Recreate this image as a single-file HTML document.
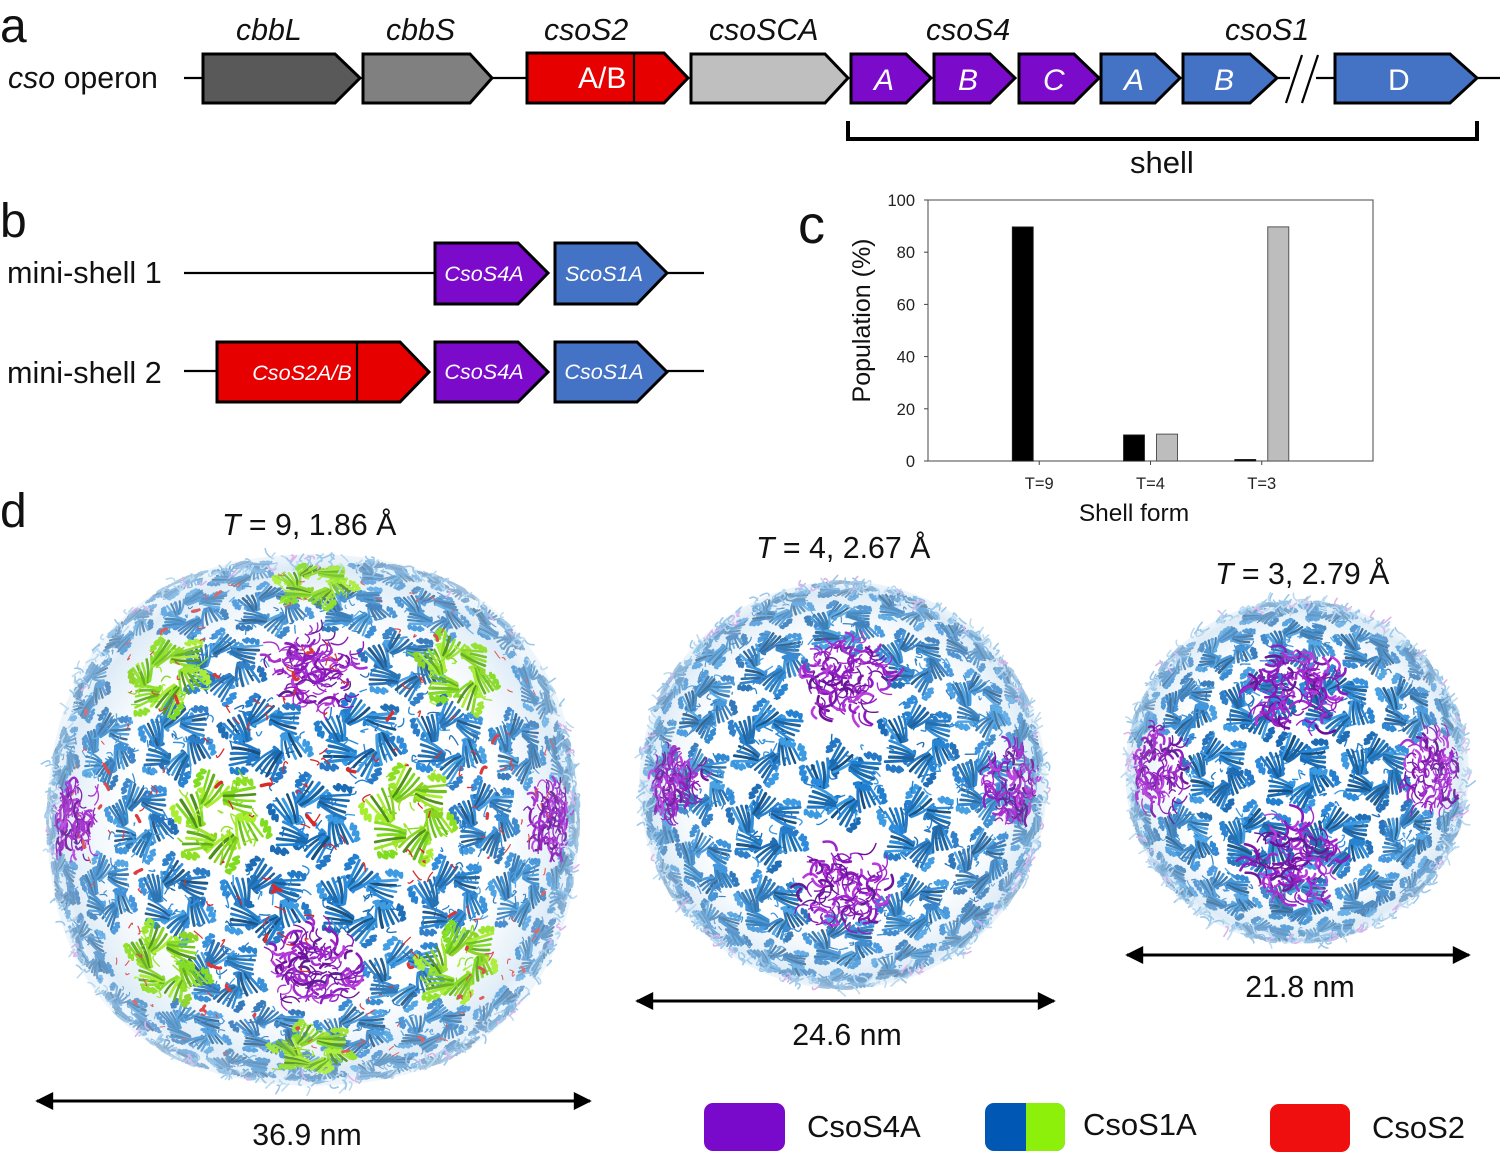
<!DOCTYPE html>
<html lang="en">
<head>
<meta charset="utf-8">
<title>Carboxysome mini-shell figure</title>
<style>
html,body{margin:0;padding:0;background:#fff;}
svg{display:block;}
text{font-family:"Liberation Sans",sans-serif;fill:#111;}
.i{font-style:italic;}
.g{stroke:#000;stroke-width:3;stroke-linejoin:miter;}
.l{stroke:#000;stroke-width:2.2;fill:none;}
.w{fill:#fff;font-size:30px;}
.ws{fill:#fff;font-size:21.6px;font-style:italic;text-anchor:middle;}
.lab{font-size:30.3px;}
.pan{font-size:48px;}
.tk{font-size:16.5px;fill:#222;}
</style>
</head>
<body>
<svg id="fig" xmlns="http://www.w3.org/2000/svg" width="1500" height="1155" viewBox="0 0 1500 1155">
<defs>
<marker id="ah" viewBox="0 0 10 10" refX="9" refY="5" markerWidth="9" markerHeight="6" markerUnits="strokeWidth" orient="auto-start-reverse"><path d="M0 0L10 5L0 10z" fill="#000"/></marker>
<radialGradient id="halo">
<stop offset="0.7" stop-color="#cfe3f3" stop-opacity="0"/>
<stop offset="0.95" stop-color="#bcd8ee" stop-opacity="0.5"/>
<stop offset="1" stop-color="#cfe3f3" stop-opacity="0.35"/>
</radialGradient>
</defs>
<rect width="1500" height="1155" fill="#fff"/>

<g>
<text class="pan" x="0" y="42">a</text>
<text class="lab" x="8" y="88"><tspan class="i">cso</tspan> operon</text>
<path class="l" d="M184 78H203M492 78H527M1277 78H1290M1316 78H1335M1477 78H1500M1286 103L1302 55M1302 103L1318 55"/>
<polygon class="g" fill="#595959" points="203,54 335,54 360,78 335,103 203,103"/>
<polygon class="g" fill="#808080" points="363,54 470,54 492,78 470,103 363,103"/>
<polygon class="g" fill="#e60000" points="527,53 664,53 688,78 664,103 527,103"/>
<path class="l" d="M634 53V103"/>
<polygon class="g" fill="#bfbfbf" points="691,54 825,54 848,78 825,103 691,103"/>
<polygon class="g" fill="#7b0acb" points="851,54 906,54 931,78 906,103 851,103"/>
<polygon class="g" fill="#7b0acb" points="934,54 990,54 1015,78 990,103 934,103"/>
<polygon class="g" fill="#7b0acb" points="1019,54 1074,54 1099,78 1074,103 1019,103"/>
<polygon class="g" fill="#4472c4" points="1101,54 1155,54 1180,78 1155,103 1101,103"/>
<polygon class="g" fill="#4472c4" points="1183,54 1250,54 1277,78 1250,103 1183,103"/>
<polygon class="g" fill="#4472c4" points="1335,54 1450,54 1477,78 1450,103 1335,103"/>
<text class="lab i" x="236" y="40">cbbL</text>
<text class="lab i" x="386" y="40">cbbS</text>
<text class="lab i" x="544" y="40">csoS2</text>
<text class="lab i" x="709" y="40">csoSCA</text>
<text class="lab i" x="926" y="40">csoS4</text>
<text class="lab i" x="1225" y="40">csoS1</text>
<text class="w" x="578" y="88">A/B</text>
<text class="w i" x="874" y="90">A</text>
<text class="w i" x="958" y="90">B</text>
<text class="w i" x="1043" y="90">C</text>
<text class="w i" x="1124" y="90">A</text>
<text class="w i" x="1214" y="90">B</text>
<text class="w" x="1388" y="90">D</text>
<path d="M848 121V139H1477V121" fill="none" stroke="#000" stroke-width="4"/>
<text x="1130" y="173" font-size="31">shell</text>
</g>

<g>
<text class="pan" x="0" y="237">b</text>
<text x="7" y="283" font-size="30.6">mini-shell 1</text>
<text x="7" y="383" font-size="30.6">mini-shell 2</text>
<path class="l" d="M184 273H435M667 273H704M184 371H217M667 371H704"/>
<polygon class="g" fill="#7b0acb" points="435,243 518,243 548,273 518,304 435,304"/>
<polygon class="g" fill="#4472c4" points="555,243 637,243 667,273 637,304 555,304"/>
<polygon class="g" fill="#e60000" points="217,342 400,342 429,372 400,402 217,402"/>
<path class="l" d="M357 342V402"/>
<polygon class="g" fill="#7b0acb" points="435,342 518,342 548,372 518,402 435,402"/>
<polygon class="g" fill="#4472c4" points="555,342 637,342 667,372 637,402 555,402"/>
<text class="ws" x="484" y="281">CsoS4A</text>
<text class="ws" x="604" y="281">ScoS1A</text>
<text class="ws" x="302" y="380">CsoS2A/B</text>
<text class="ws" x="484" y="379">CsoS4A</text>
<text class="ws" x="604" y="379">CsoS1A</text>
</g>

<g id="chart">
<text x="798" y="243" font-size="54">c</text>
<text x="1134" y="521" font-size="24.5" text-anchor="middle">Shell form</text>
<text transform="translate(870 320.5) rotate(-90)" font-size="25" text-anchor="middle">Population (%)</text>
</g>

<g>
<text class="pan" x="0" y="527">d</text>
<text class="lab" x="222" y="535"><tspan class="i">T</tspan> = 9, 1.86 Å</text>
<text class="lab" x="756" y="558"><tspan class="i">T</tspan> = 4, 2.67 Å</text>
<text class="lab" x="1215" y="584"><tspan class="i">T</tspan> = 3, 2.79 Å</text>
<g id="shells"></g>
<path d="M37 1101H590" stroke="#000" stroke-width="3" marker-start="url(#ah)" marker-end="url(#ah)"/>
<path d="M637 1001H1054" stroke="#000" stroke-width="3" marker-start="url(#ah)" marker-end="url(#ah)"/>
<path d="M1127 955H1469" stroke="#000" stroke-width="3" marker-start="url(#ah)" marker-end="url(#ah)"/>
<text class="lab" x="307" y="1145" text-anchor="middle">36.9 nm</text>
<text class="lab" x="847" y="1045" text-anchor="middle">24.6 nm</text>
<text class="lab" x="1300" y="997" text-anchor="middle">21.8 nm</text>
</g>

<g>
<rect x="704" y="1103" width="81" height="48" rx="9" fill="#7a0acb"/>
<text x="807" y="1137" font-size="31">CsoS4A</text>
<rect x="985" y="1103" width="80" height="48" rx="9" fill="#0058b4"/>
<path d="M1026 1103H1056a9 9 0 0 1 9 9V1142a9 9 0 0 1 -9 9H1026z" fill="#8cf00a"/>
<text x="1083" y="1135" font-size="31">CsoS1A</text>
<rect x="1270" y="1104" width="80" height="48" rx="9" fill="#f00f0f"/>
<text x="1372" y="1138" font-size="31">CsoS2</text>
</g>
</svg>

<script>
/* ---------- chart data ---------- */
const categories = ["T=9", "T=4", "T=3"];
const seriesBlack = [89.7, 10, 0.6];
const seriesGray = [0, 10.3, 89.7];
const yTicks = [0, 20, 40, 60, 80, 100];

const NS = "http://www.w3.org/2000/svg";
const chart = document.getElementById("chart");
const plotLeft = 928, plotRight = 1373, plotTop = 200, plotBottom = 461;
const yMax = 100;
function yScale(v) { return plotBottom - (v / yMax) * (plotBottom - plotTop); }
function xScale(i) { return plotLeft + (plotRight - plotLeft) / (categories.length + 1) * (i + 1); }
function mk(tag, attrs, parent) {
  const e = document.createElementNS(NS, tag);
  for (const k in attrs) e.setAttribute(k, attrs[k]);
  (parent || chart).appendChild(e);
  return e;
}
const frame = mk("rect", {x: plotLeft, y: plotTop, width: plotRight - plotLeft, height: plotBottom - plotTop, fill: "none", stroke: "#666", "stroke-width": 1.2});


yTicks.forEach(function (t) {
  const m = mk("line", {x1: plotLeft - 4, x2: plotLeft, y1: yScale(t), y2: yScale(t), stroke: "#444", "stroke-width": 1});
  
  
  const l = mk("text", {x: plotLeft - 13, y: yScale(t) + 6, "text-anchor": "end", class: "tk"});
  l.textContent = t;
  
  
});
categories.forEach(function (c, i) {
  const x = xScale(i);
  const m = mk("line", {x1: x, x2: x, y1: plotBottom, y2: plotBottom + 4, stroke: "#444", "stroke-width": 1});
  
  
  const l = mk("text", {x: x, y: plotBottom + 28, "text-anchor": "middle", class: "tk"});
  l.textContent = c;
  
  
  const b1 = mk("rect", {x: x - 27, y: yScale(seriesBlack[i]), width: 21, height: plotBottom - yScale(seriesBlack[i]), fill: "#000", stroke: "#222", "stroke-width": 0.8});
  
  
  const b2 = mk("rect", {x: x + 6, y: yScale(seriesGray[i]), width: 21, height: plotBottom - yScale(seriesGray[i]), fill: "#bdbdbd", stroke: "#555", "stroke-width": 1});
  
  
});

/* ---------- decorative protein-ribbon texture (not chart data) ---------- */
let seed = 12345;
function rnd() { seed = (seed * 1664525 + 1013904223) % 4294967296; return seed / 4294967296; }
const BLUE = ["#1f7fd0", "#2a8adb", "#1a6ab4", "#3a9ae2", "#2378c6"];
const BLUE_DARK = ["#164f80", "#1a5f98", "#1b6aa8"];
const GREEN = ["#7fdc1e", "#9be52a", "#8ce020", "#8ad420", "#a8ee30"];
const GREEN_DARK = ["#5fae1a", "#4f8f1a", "#6cc01c"];
const PURPLE = ["#8a16b8", "#a52bd0", "#8a18c0", "#b83adc", "#a024cc"];
const PURPLE_DARK = ["#6a1098", "#5a1a90", "#7a14a6"];
const shellSpecs = [
  {name: "t9-shell", cx: 313, cy: 820, R: 266, sp: 95, rot: 0, bulge: 0.045, links: 1,
   green: [[219,820],[410,815],[165,675],[460,670],[315,582],[165,965],[460,965],[313,1052]],
   purple: [[313,670],[315,968],[72,820],[552,820]]},
  {name: "t4-shell", cx: 843, cy: 785, R: 204, sp: 92, rot: 30, bulge: 0, links: 0,
   green: [], purple: [[845,675],[843,893],[672,785],[1015,785]]},
  {name: "t3-shell", cx: 1297, cy: 772, R: 172, sp: 84, rot: 0, bulge: 0, links: 0,
   green: [], purple: [[1295,685],[1295,865],[1155,770],[1437,770]]}
];
function mix(hex, t) {
  const n = parseInt(hex.slice(1), 16);
  const f = function (c) { return Math.round(c + (240 - c) * t); };
  return "rgb(" + f(n >> 16) + "," + f((n >> 8) & 255) + "," + f(n & 255) + ")";
}
function drawShell(s) {
  const g = mk("g", {fill: "none", "stroke-linecap": "round"}, document.getElementById("shells"));
  
  
  function bulge(th) { const q = Math.sin(2 * th); return 1 + s.bulge * q * q; }
  let outline = "";
  for (let a = 0; a < 72; a++) {
    const th = a * Math.PI / 36, r = s.R * bulge(th);
    outline += (a ? "L" : "M") + (s.cx + Math.cos(th) * r).toFixed(1) + " " + (s.cy + Math.sin(th) * r).toFixed(1);
  }
  const under = mk("path", {d: outline + "Z", fill: "url(#halo)"}, g);
  
  
  function toPlane(px, py) {
    const dx = px - s.cx, dy = py - s.cy, d0 = Math.hypot(dx, dy);
    if (d0 < 1) return [0, 0];
    const p = d0 / bulge(Math.atan2(dy, dx));
    const r = s.R * Math.asin(Math.min(p / s.R, 0.995));
    return [dx / d0 * r, dy / d0 * r];
  }
  function proj(u, v) {
    const r = Math.hypot(u, v);
    if (r < 1) return [s.cx + u, s.cy + v, 0];
    const q = Math.min(r / s.R, Math.PI / 2), p = s.R * Math.sin(q) * bulge(Math.atan2(v, u));
    return [s.cx + u / r * p, s.cy + v / r * p, q];
  }
  const d = {};
  let fade = 0.72;
  function add(col, w, pts) {
    const a = proj(pts[0], pts[1]);
    const rim = Math.min(1, Math.pow(a[2] / (Math.PI / 2), 2.6));
    const colour = mix(col, rim * fade);
    const ww = (w * (1 - 0.45 * rim * (fade > 0.5 ? 1 : 0.4))).toFixed(1);
    const key = colour + "|" + ww;
    let str = "M" + a[0].toFixed(1) + " " + a[1].toFixed(1);
    for (let i = 2; i + 3 < pts.length; i += 4) {
      const b = proj(pts[i], pts[i + 1]), c = proj(pts[i + 2], pts[i + 3]);
      str += "Q" + b[0].toFixed(1) + " " + b[1].toFixed(1) + " " + c[0].toFixed(1) + " " + c[1].toFixed(1);
    }
    d[key] = (d[key] || "") + str;
  }
  function pick(p) { return p[Math.floor(rnd() * p.length)]; }
  /* One ribbon monomer: a strand fan with helices on both sides, pin-wheeled
     around the hexamer so the hexamer centre stays open. */
  function monomer(pu, pv, rad, a, pal, dark) {
    const phi = a + 0.85 + (rnd() - 0.5) * 0.2;
    const mx = pu + Math.cos(a) * rad * 0.56, my = pv + Math.sin(a) * rad * 0.56;
    const cp = Math.cos(phi), sp = Math.sin(phi);
    function L(x, y) { return [mx + (x * cp - y * sp) * rad, my + (x * sp + y * cp) * rad]; }
    for (let k = -2; k <= 2; k++) {
      const p0 = L(-0.3, k * 0.04), p1 = L(-0.05, k * 0.09 + 0.03), p2 = L(0.22 + rnd() * 0.08, k * 0.12);
      add(k % 2 ? pick(dark) : pick(pal), 2.4 + rnd(), [p0[0], p0[1], p1[0], p1[1], p2[0], p2[1]]);
    }
    [-1, 1].forEach(function (side) {
      const x0 = -0.12 + rnd() * 0.1, y0 = side * (0.3 + rnd() * 0.05), pts = [];
      const st = L(x0, y0);
      pts.push(st[0], st[1]);
      for (let c = 1; c <= 5; c++) {
        const ctl = L(x0 + 0.06 * c + (c % 2 ? 0.08 : -0.08), y0 + (c % 2 ? -0.1 : 0.1) * side);
        const end = L(x0 + 0.065 * c, y0 + side * 0.01 * c);
        pts.push(ctl[0], ctl[1], end[0], end[1]);
      }
      add(pick(pal), 3.4, pts);
    });
    for (let j = 0; j < 4; j++) {
      const x = (rnd() - 0.5) * 0.7, y = (rnd() - 0.5) * 0.85;
      const p0 = L(x, y), p1 = L(x + (rnd() - 0.5) * 0.4, y + (rnd() - 0.5) * 0.4), p2 = L(x + (rnd() - 0.5) * 0.4, y + (rnd() - 0.5) * 0.4);
      add(pick(pal), 1.4, [p0[0], p0[1], p1[0], p1[1], p2[0], p2[1]]);
    }
  }
  function tangle(pu, pv, rad, pal, dark) {
    for (let k = 0; k < 5; k++) {
      const a = k * 1.2566 - 1.57;
      const mu = pu + Math.cos(a) * rad * 0.55, mv = pv + Math.sin(a) * rad * 0.55;
      for (let j = 0; j < 24; j++) {
        const t = rnd() * 6.283, o = Math.sqrt(rnd()) * rad * 0.46;
        const u0 = mu + Math.cos(t) * o, v0 = mv + Math.sin(t) * o;
        const t2 = rnd() * 6.283, l = rad * (0.18 + rnd() * 0.26);
        add(rnd() < 0.25 ? pick(dark) : pick(pal), rnd() < 0.6 ? 1.4 : 2.6, [u0, v0, u0 + Math.cos(t2 + 0.9) * l * 0.7, v0 + Math.sin(t2 + 0.9) * l * 0.7, u0 + Math.cos(t2) * l, v0 + Math.sin(t2) * l]);
      }
    }
  }
  const greens = s.green.map(function (c) { return toPlane(c[0], c[1]); });
  const purples = s.purple.map(function (c) { return toPlane(c[0], c[1]); });
  const acc = greens.concat(purples);
  const ang = s.rot * Math.PI / 180, lim = s.R * 1.46;
  for (let i = -8; i <= 8; i++) {
    for (let j = -8; j <= 8; j++) {
      const x = s.sp * (i + j / 2), y = s.sp * j * 0.866;
      const u = x * Math.cos(ang) - y * Math.sin(ang), v = x * Math.sin(ang) + y * Math.cos(ang);
      if (Math.hypot(u, v) > lim) continue;
      if (acc.some(function (c) { return Math.hypot(c[0] - u, c[1] - v) < s.sp * 0.42; })) continue;
      const rot = 0.3 + rnd() * 0.2;
      for (let k = 0; k < 6; k++) monomer(u, v, s.sp * 0.5, rot + k * 1.0472, BLUE, BLUE_DARK);
    }
  }
  fade = 0.25;
  greens.forEach(function (c) {
    for (let k = 0; k < 6; k++) monomer(c[0], c[1], 54, 0.3 + k * 1.0472, GREEN, GREEN_DARK);
  });
  purples.forEach(function (c) { tangle(c[0], c[1], 50, PURPLE, PURPLE_DARK); });
  fade = 0.72;
  if (s.links) {
    for (let i = 0; i < 230; i++) {
      const t = rnd() * 6.283, r = Math.sqrt(rnd()) * s.R * 1.2, u = Math.cos(t) * r, v = Math.sin(t) * r;
      add("#d8282a", rnd() < 0.22 ? 3.4 : 1.3, [u, v, u + 6 - rnd() * 12, v + 6 - rnd() * 12, u + 9 - rnd() * 18, v + 9 - rnd() * 18]);
    }
  }
  for (let i = 0; i < 340; i++) {
    const t = rnd() * 6.283, r = s.R * bulge(t) * (0.96 + rnd() * 0.045);
    const x = s.cx + Math.cos(t) * r, y = s.cy + Math.sin(t) * r;
    const pink = rnd() < 0.14;
    const key = (pink ? "#dcb4ea" : (rnd() < 0.5 ? "#9cc8ea" : "#bcdaf0")) + "|1.6";
    const q = rnd() * 6.283, l = 4 + rnd() * 6;
    d[key] = (d[key] || "") + "M" + x.toFixed(1) + " " + y.toFixed(1) + "q" + (Math.sin(q) * 5).toFixed(1) + " " + (Math.cos(q) * 5).toFixed(1) + " " + (Math.cos(q) * l).toFixed(1) + " " + (Math.sin(q) * l).toFixed(1);
  }
  Object.keys(d).forEach(function (key) {
    const parts = key.split("|");
    mk("path", {d: d[key], stroke: parts[0], "stroke-width": parts[1]}, g);
  });
}
shellSpecs.forEach(drawShell);
</script>
</body>
</html>
